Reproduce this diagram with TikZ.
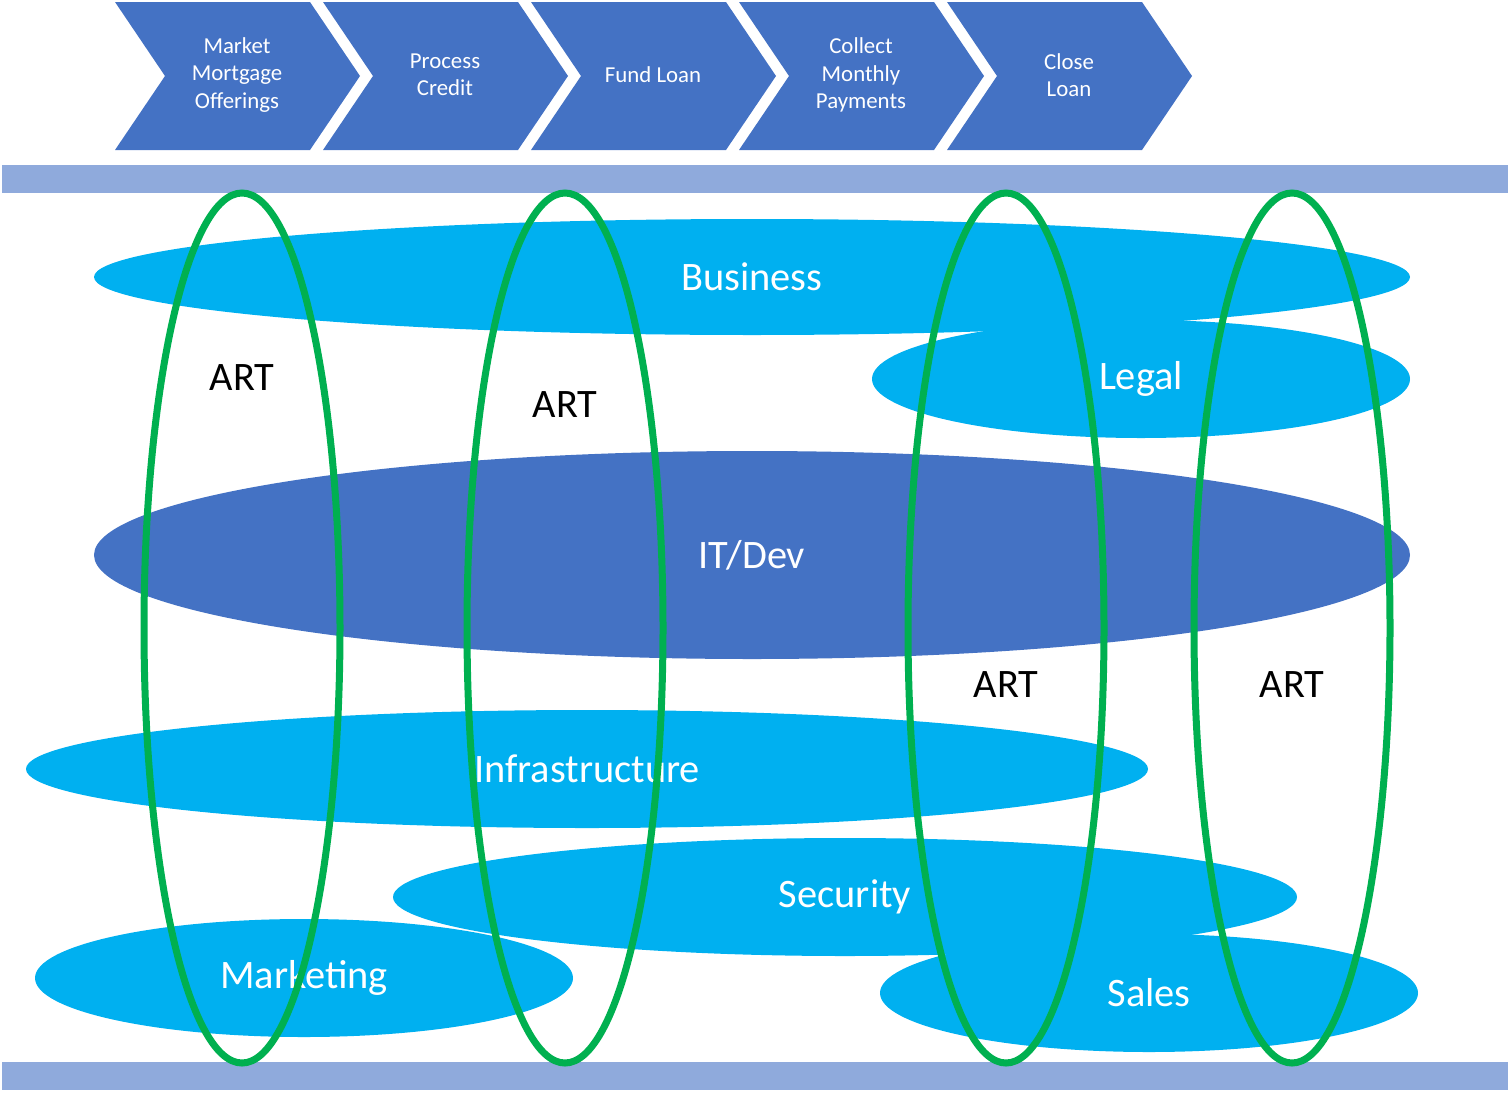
\documentclass[tikz,border=0pt]{standalone}
\usepackage{fontspec}
\setmainfont{Carlito}
\definecolor{lb}{HTML}{00B0F0}
\definecolor{db}{HTML}{4472C4}
\definecolor{bar}{HTML}{8FAADC}
\definecolor{gr}{HTML}{00B050}
\begin{document}
\begin{tikzpicture}[x=0.02cm,y=-0.02cm,
 chev/.style={fill=db,draw=white,line width=0.5pt},
 ctext/.style={white,font=\fontsize{13}{15.5}\selectfont,align=center},
 etext/.style={white,font=\fontsize{23}{27}\selectfont},
 art/.style={black,font=\fontsize{23}{27}\selectfont},
 oval/.style={draw=gr,line width=0.14cm}]
\useasboundingbox (0,0) rectangle (1510,1092);
\foreach \i/\t in {0/{Market\\Mortgage\\Offerings},1/{Process\\Credit},2/{Fund Loan},3/{Collect\\Monthly\\Payments},4/{Close\\Loan}}{
 \begin{scope}[xshift=\i*208*0.02cm]
 \fill[db] (115,2)--(310,2)--(360,76)--(310,150)--(115,150)--(165,76)--cycle;
 \node[ctext] (c\i) at (237,75) {\t};
 \end{scope}}
\fill[bar] (2,165) rectangle (1508,193);
\fill[bar] (2,1062) rectangle (1508,1090);
\fill[lb] (752,277) ellipse [x radius=658,y radius=58];
\node[etext] (bus) at (752,277) {Business};
\fill[lb] (1141,379) ellipse [x radius=269,y radius=59];
\node[etext] (leg) at (1141,379) {Legal};
\fill[db] (752,555) ellipse [x radius=658,y radius=104];
\node[etext] (it) at (752,555) {IT/Dev};
\fill[lb] (587,769) ellipse [x radius=561,y radius=59];
\node[etext] (inf) at (587,769) {Infrastructure};
\fill[lb] (845,897) ellipse [x radius=452,y radius=59];
\node[etext] (sec) at (845,897) {Security};
\fill[lb] (304,978) ellipse [x radius=269,y radius=59];
\node[etext] (mar) at (304,978) {Marketing};
\fill[lb] (1149,993) ellipse [x radius=269,y radius=59];
\node[etext] (sal) at (1149,993) {Sales};
\foreach \x in {242,565,1006,1292}{
 \draw[oval] (\x,628) ellipse [x radius=98,y radius=435];}
\node[art] (a1) at (242,378) {ART};
\node[art] (a2) at (565,405) {ART};
\node[art] (a3) at (1006,685) {ART};
\node[art] (a4) at (1292,685) {ART};
\end{tikzpicture}
\end{document}
